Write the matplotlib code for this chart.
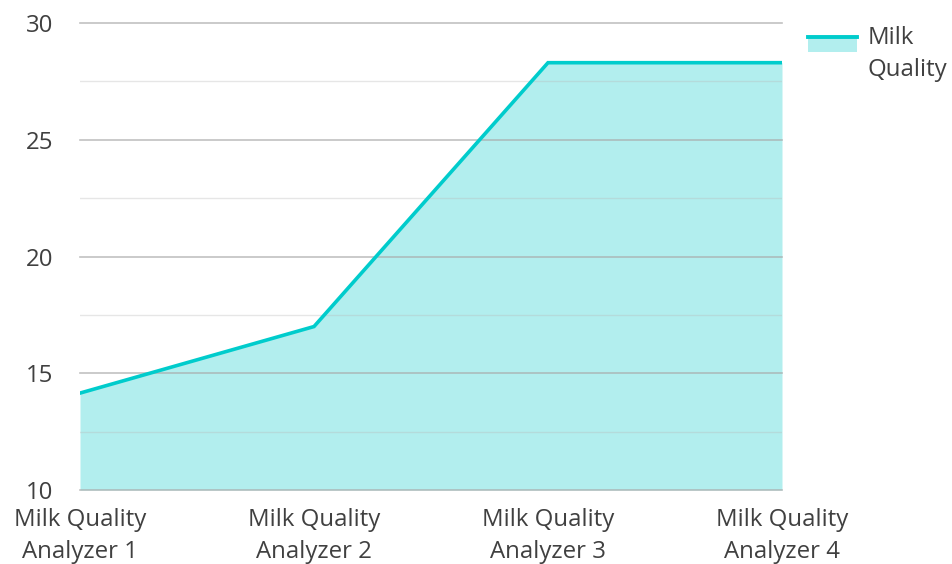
import matplotlib
matplotlib.use("Agg")
import matplotlib.pyplot as plt
from matplotlib.legend_handler import HandlerBase
from matplotlib.patches import Rectangle
from matplotlib.lines import Line2D

categories = ["Milk Quality\nAnalyzer 1", "Milk Quality\nAnalyzer 2",
              "Milk Quality\nAnalyzer 3", "Milk Quality\nAnalyzer 4"]
values = [14.15, 17.0, 28.3, 28.3]
series_name = "Milk Quality"
yticks = [10, 15, 20, 25, 30]
yminor = [12.5, 17.5, 22.5, 27.5]

LINE = "#00cccc"
FILL = "#b2eeee"
TEXT = "#404040"
FS = 17.3

plt.rcParams['font.family'] = ['Open Sans', 'DejaVu Sans']

fig = plt.figure(figsize=(9.52, 5.64), dpi=100)
ax = fig.add_axes([80/952, (564-490)/564, (782-80)/952, (490-23)/564])

x = list(range(len(categories)))
ax.fill_between(x, values, 10, color=FILL, linewidth=0, zorder=1)
ax.plot(x, values, color=LINE, linewidth=2.6, zorder=3, solid_joinstyle='miter')

for v in yticks:
    ax.axhline(v, color="#a8a8a8", linewidth=1.2, alpha=0.7, zorder=2, clip_on=False)
for v in yminor:
    ax.axhline(v, color="#b8b8b8", linewidth=1, alpha=0.35, zorder=2)

ax.set_xlim(0, len(categories) - 1)
ax.set_ylim(10, 30)
ax.set_yticks(yticks)
ax.set_yticklabels([str(v) for v in yticks])
ax.set_xticks(x)
ax.set_xticklabels(categories, linespacing=1.42)
ax.tick_params(axis='both', length=0, labelsize=FS, colors=TEXT)
ax.tick_params(axis='y', pad=19)
ax.tick_params(axis='x', pad=13)
for s in ax.spines.values():
    s.set_visible(False)


class AreaHandler(HandlerBase):
    def create_artists(self, legend, orig_handle, xdescent, ydescent,
                       width, height, fontsize, trans):
        top = height * 1.55 - ydescent
        ph = height * 0.9
        r = Rectangle((-xdescent, top - ph), width, ph,
                      facecolor=FILL, edgecolor='none', transform=trans)
        l = Line2D([-xdescent, -xdescent + width], [top, top], color=LINE,
                   linewidth=2.8, transform=trans)
        return [r, l]


handle = Rectangle((0, 0), 1, 1)
leg = fig.legend([handle], ["Milk\nQuality"], handler_map={Rectangle: AreaHandler()},
                 loc='upper left', bbox_to_anchor=(801/952, 1 - 19/564),
                 frameon=False, fontsize=FS, handlelength=2.05, handletextpad=0.42,
                 labelspacing=0.3, borderaxespad=0, borderpad=0.3)
for t in leg.get_texts():
    t.set_color(TEXT)
    t.set_linespacing(1.42)

fig.savefig("out.png", dpi=100)
